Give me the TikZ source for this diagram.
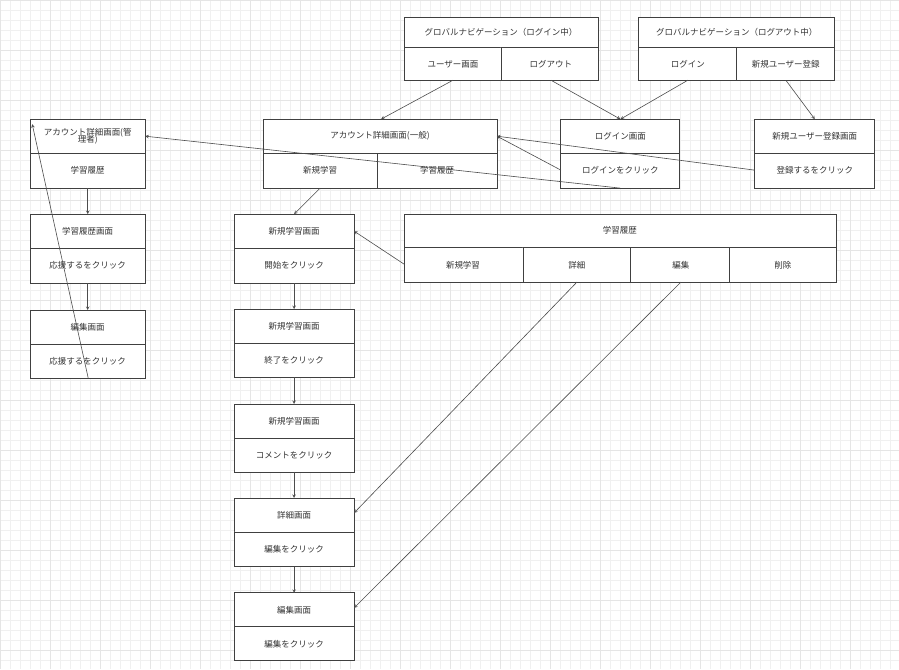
\documentclass[tikz,border=0pt]{standalone}
\usepackage{fontspec}
\setmainfont{Noto Sans CJK JP}
\begin{document}
\begin{tikzpicture}[x=1pt,y=-1pt,
 box/.style={draw=black!75,line width=0.9pt,fill=white},
 t/.style={font=\fontsize{8.5}{9.5}\selectfont,text=black!80,inner sep=0pt,align=center},
 ar/.style={draw=black!70,line width=0.6pt,->,>=stealth}]
\fill[white] (0,0) rectangle (899,669);
\foreach \i in {0,10,...,890} \draw[black!6,line width=0.3pt] (\i,0) -- (\i,669);
\foreach \i in {0,10,...,660} \draw[black!6,line width=0.3pt] (0,\i) -- (899,\i);
\foreach \i in {0,50,...,850} \draw[black!10,line width=0.5pt] (\i,0) -- (\i,669);
\foreach \i in {0,50,...,650} \draw[black!10,line width=0.5pt] (0,\i) -- (899,\i);
\newcommand\twobox[8]{%
 \draw[box] (#2,#3) rectangle (#4,#6);
 \draw[box] (#2,#5) -- (#4,#5);
 \node[t] (#1) at ({(#2+#4)/2},{(#3+#5)/2}) {#7};
 \node[t] (#1b) at ({(#2+#4)/2},{(#5+#6)/2}) {#8};
 \coordinate (#1T) at ({(#2+#4)/2},#3);
 \coordinate (#1B) at ({(#2+#4)/2},#6);}
\draw[box] (404,17) rectangle (599,80); \draw[box] (404,47)--(599,47); \draw[box] (501,47)--(501,80);
\node[t] (gn1) at (501,32) {グロバルナビゲーション（ログイン中）};
\node[t] (gn1a) at (453,64) {ユーザー画面};
\node[t] (gn1b) at (551,64) {ログアウト};
\coordinate (gn1aB) at (453,80); \coordinate (gn1bB) at (551,80);
\draw[box] (639,17) rectangle (835,80); \draw[box] (639,47)--(835,47); \draw[box] (737,47)--(737,80);
\node[t] (gn2) at (737,32) {グロバルナビゲーション（ログアウト中）};
\node[t] (gn2a) at (688,64) {ログイン};
\node[t] (gn2b) at (786,64) {新規ユーザー登録};
\coordinate (gn2aB) at (688,80); \coordinate (gn2bB) at (786,80);
\twobox{adm}{30}{119}{145}{153}{188}{アカウント詳細画面(管\\[-2pt]理者)}{学習履歴}
\draw[box] (263,119) rectangle (497,188); \draw[box] (263,153)--(497,153); \draw[box] (377,153)--(377,188);
\node[t] (gen) at (380,136) {アカウント詳細画面(一般)};
\node[t] (gena) at (320,170) {新規学習};
\node[t] (genb) at (437,170) {学習履歴};
\coordinate (genT) at (381,119); \coordinate (genR) at (497,136); \coordinate (genaB) at (320,188);
\twobox{login}{561}{119}{680}{153}{188}{ログイン画面}{ログインをクリック}
\twobox{nu}{755}{119}{875}{153}{188}{新規ユーザー登録画面}{登録するをクリック}
\twobox{hist}{30}{214}{145}{248}{283}{学習履歴画面}{応援するをクリック}
\twobox{edl}{30}{310}{145}{344}{378}{編集画面}{応援するをクリック}
\twobox{s1}{234}{214}{354}{248}{283}{新規学習画面}{開始をクリック}
\twobox{s2}{234}{309}{354}{343}{377}{新規学習画面}{終了をクリック}
\twobox{s3}{234}{404}{354}{438}{472}{新規学習画面}{コメントをクリック}
\twobox{det}{234}{498}{354}{532}{567}{詳細画面}{編集をクリック}
\twobox{ed}{234}{593}{354}{627}{661}{編集画面}{編集をクリック}
\draw[box] (404,214) rectangle (837,282); \draw[box] (404,247)--(837,247);
\foreach \x in {523,631,730} \draw[box] (\x,247)--(\x,282);
\node[t] (tb) at (620,230) {学習履歴};
\node[t] (tba) at (463,265) {新規学習};
\node[t] (tbb) at (577,265) {詳細};
\node[t] (tbc) at (681,265) {編集};
\node[t] (tbd) at (783,265) {削除};
\coordinate (tbaL) at (404,264); \coordinate (tbbB) at (577,282); \coordinate (tbcB) at (681,282);
\coordinate (loginL) at (561,170); \coordinate (nuL) at (755,170);
\coordinate (admR) at (145,136); \coordinate (admTL) at (32,124); \coordinate (edlBL) at (88,378);
\coordinate (s1R) at (354,231); \coordinate (detR) at (354,513); \coordinate (edR) at (354,608);
\draw[ar] (gn1aB) -- (genT);
\draw[ar] (gn1bB) -- (loginT);
\draw[ar] (gn2aB) -- (loginT);
\draw[ar] (gn2bB) -- (nuT);
\draw[ar] (loginL) -- (genR);
\draw[ar] (loginB) -- (admR);
\draw[ar] (nuL) -- (genR);
\draw[ar] (genaB) -- (s1T);
\draw[ar] (admB) -- (histT);
\draw[ar] (histB) -- (edlT);
\draw[ar] (edlBL) -- (admTL);
\draw[ar] (tbaL) -- (s1R);
\draw[ar] (s1B) -- (s2T);
\draw[ar] (s2B) -- (s3T);
\draw[ar] (s3B) -- (detT);
\draw[ar] (detB) -- (edT);
\draw[ar] (tbbB) -- (detR);
\draw[ar] (tbcB) -- (edR);
\useasboundingbox (0,0) rectangle (899,669);
\end{tikzpicture}
\end{document}
